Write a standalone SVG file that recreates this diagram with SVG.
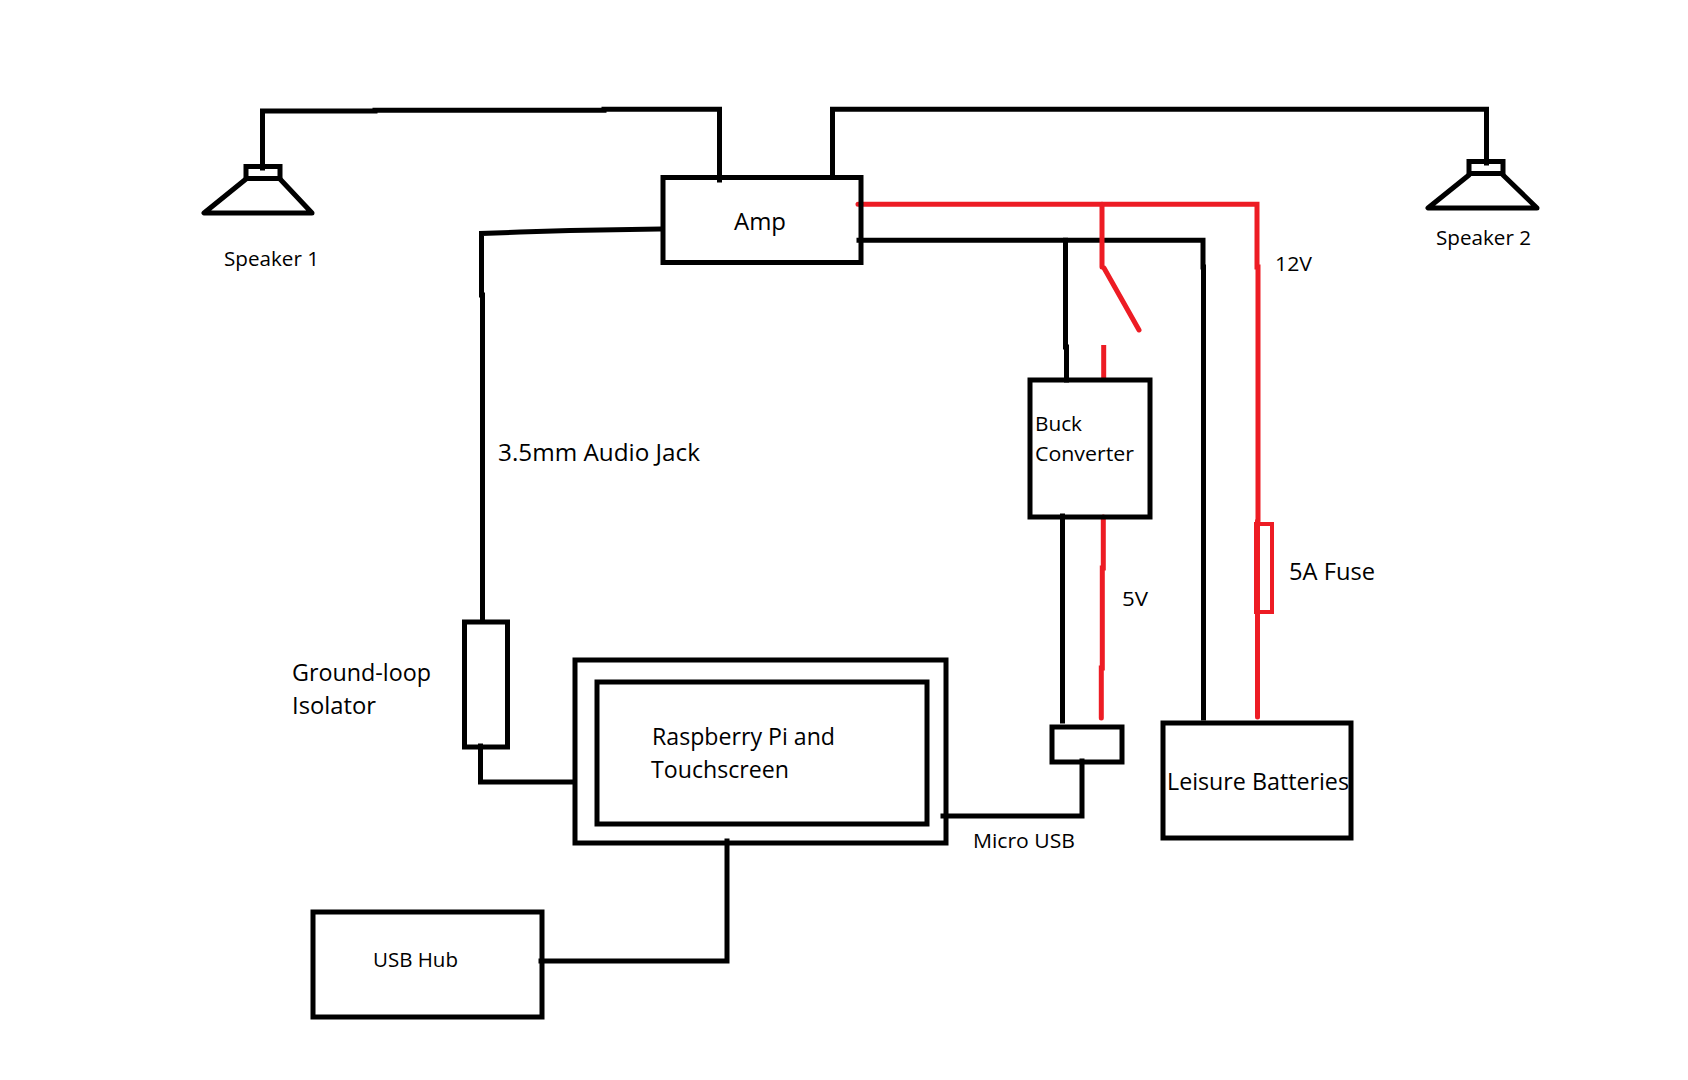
<svg xmlns="http://www.w3.org/2000/svg" width="1688" height="1080" viewBox="0 0 1688 1080">
<style>
.b{fill:none;stroke:#000;stroke-width:5;stroke-linejoin:miter}
.w{fill:none;stroke:#000;stroke-width:5;stroke-linecap:square}
.r{fill:none;stroke:#ed1c24;stroke-width:5;stroke-linecap:round}
.c{fill:none;stroke:#000;stroke-width:5;stroke-linecap:round;stroke-linejoin:round}
text{font-family:"Open Sans","Noto Sans","Liberation Sans",sans-serif;fill:#000;lengthAdjust:spacingAndGlyphs}
.s{font-size:20px}.m{font-size:24px}
</style>
<rect width="1688" height="1080" fill="#fff"/>
<g id="connectors">
<path class="w" d="M262.5 168V111H375V110.3H604V109.3H719.5V180"/>
<path class="w" d="M832.5 177V109.3H1486.5V163"/>
<path class="w" d="M659 229L570 230.5L520 232L481.5 233.5V295H482.5V619"/>
<path class="w" d="M480.5 746V782H571"/>
<path class="w" d="M727 841V961H541"/>
<path class="w" d="M943 816H1082V761"/>
<path class="w" d="M859 240.3H1203V267H1203.5V718"/>
<path class="w" d="M1065.5 240.3V347H1066.5V380"/>
<path class="w" d="M1062.5 516V721"/>
<path class="r" d="M858 204.3H1257V267H1258V521"/>
<path class="r" d="M1257.5 521V717"/>
<path class="r" d="M1102 204.3V267"/>
<path class="r" d="M1104 268L1139 330"/>
<path class="r" style="stroke-linecap:butt" d="M1103.7 345V381"/>
<path class="r" d="M1103.3 517V568H1102.3V668H1101.3V718"/>
</g>
<g id="speaker-1">
<rect class="b" x="246" y="166.500" width="34" height="12"/>
<path class="c" d="M246 179L204 213H312L280 179"/>
<text class="s" x="224" y="265.500" textLength="95" lengthAdjust="spacingAndGlyphs">Speaker 1</text>
</g>
<g id="speaker-2">
<rect class="b" x="1469" y="161.500" width="34" height="12"/>
<path class="c" d="M1469 175L1428 208H1537L1503 175"/>
<text class="s" x="1436" y="245" textLength="95" lengthAdjust="spacingAndGlyphs">Speaker 2</text>
</g>
<g id="amp">
<rect class="b" x="663" y="177.500" width="198" height="85"/>
<text class="m" x="734" y="230" textLength="52" lengthAdjust="spacingAndGlyphs">Amp</text>
</g>
<g id="buck-converter">
<rect class="b" x="1030" y="380" width="120" height="137"/>
<text class="s" x="1035" y="431" textLength="47" lengthAdjust="spacingAndGlyphs">Buck</text>
<text class="s" x="1035" y="461" textLength="99" lengthAdjust="spacingAndGlyphs">Converter</text>
</g>
<g id="isolator">
<rect class="b" x="464.500" y="622" width="43" height="125"/>
<text class="m" x="292" y="681" textLength="139" lengthAdjust="spacingAndGlyphs">Ground-loop</text>
<text class="m" x="292" y="714" textLength="84" lengthAdjust="spacingAndGlyphs">Isolator</text>
</g>
<g id="raspberry-pi">
<rect class="b" x="575" y="660" width="371" height="183"/>
<rect class="b" x="597" y="682" width="330" height="142"/>
<text class="m" x="652" y="745" textLength="183" lengthAdjust="spacingAndGlyphs">Raspberry Pi and</text>
<text class="m" x="651" y="778" textLength="138" lengthAdjust="spacingAndGlyphs">Touchscreen</text>
</g>
<g id="usb-hub">
<rect class="b" x="313" y="912" width="229" height="105"/>
<text class="s" x="373" y="967" textLength="85" lengthAdjust="spacingAndGlyphs">USB Hub</text>
</g>
<g id="usb-connector">
<rect class="b" x="1052" y="727" width="70" height="35"/>
<text class="s" x="973" y="848" textLength="102" lengthAdjust="spacingAndGlyphs">Micro USB</text>
</g>
<g id="fuse">
<rect x="1256" y="524" width="16" height="88" fill="none" stroke="#ed1c24" stroke-width="4"/>
<text class="m" x="1289" y="580" textLength="86" lengthAdjust="spacingAndGlyphs">5A Fuse</text>
</g>
<g id="leisure-batteries">
<rect class="b" x="1163" y="723" width="188" height="115"/>
<text class="m" x="1167" y="790" textLength="182" lengthAdjust="spacingAndGlyphs">Leisure Batteries</text>
</g>
<text class="m" x="498" y="461" textLength="202" lengthAdjust="spacingAndGlyphs">3.5mm Audio Jack</text>
<text class="s" x="1275" y="271" textLength="37" lengthAdjust="spacingAndGlyphs">12V</text>
<text class="s" x="1122" y="606" textLength="26" lengthAdjust="spacingAndGlyphs">5V</text>
</svg>
